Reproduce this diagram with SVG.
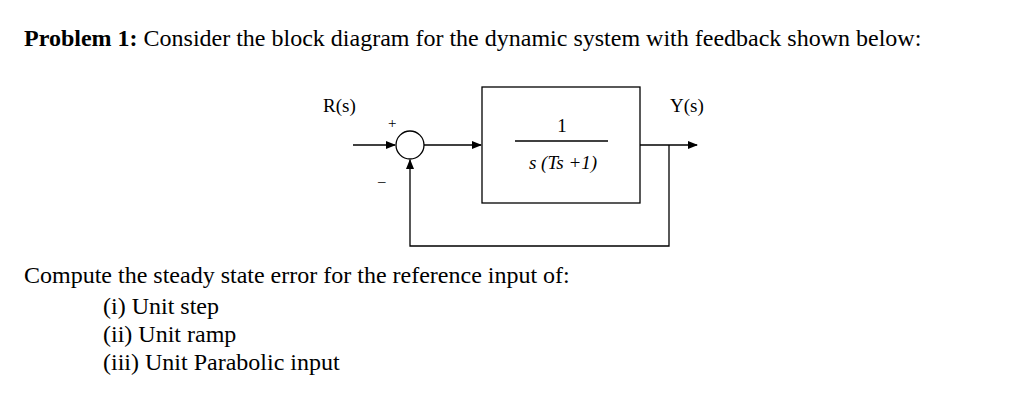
<svg xmlns="http://www.w3.org/2000/svg" width="1024" height="405" viewBox="0 0 1024 405">
<style>
text{font-family:"Liberation Serif",serif;fill:#000}
.t{font-size:24px}
.l{fill:none;stroke:#000;stroke-width:1.3}
.d{font-size:19px}
</style>
<defs><marker id="a" markerWidth="10" markerHeight="8" refX="9" refY="4" orient="auto" markerUnits="userSpaceOnUse"><path d="M0,0 L10,4 L0,8z" fill="#000"/></marker></defs>
<rect width="1024" height="405" fill="#fff"/>
<text class="t" x="24" y="46"><tspan font-weight="bold">Problem 1:</tspan>  Consider the block diagram for the dynamic system with feedback shown below:</text>
<g id="sum"><circle class="l" cx="410" cy="145" r="14"/></g>
<g id="plant"><rect class="l" x="482" y="87" width="158" height="116"/>
<text class="d" x="562" y="132" text-anchor="middle">1</text>
<line class="l" x1="515" y1="141" x2="608" y2="141"/>
<text class="d" x="563" y="169" text-anchor="middle" font-style="italic">s (Ts +1)</text></g>
<g id="connectors">
<line class="l" x1="353" y1="145" x2="395" y2="145" marker-end="url(#a)"/>
<line class="l" x1="424" y1="145" x2="481" y2="145" marker-end="url(#a)"/>
<line class="l" x1="640" y1="145" x2="697" y2="145" marker-end="url(#a)"/>
<polyline class="l" points="669,145 669,246 410,246 410,160" marker-end="url(#a)"/>
</g>
<text class="d" x="323" y="112">R(s)</text>
<text class="d" x="670" y="112">Y(s)</text>
<text x="388" y="128" font-size="15">+</text>
<text x="378" y="186" font-size="15">–</text>
<text class="t" x="24" y="283">Compute the steady state error for the reference input of:</text>
<text class="t" x="103" y="314">(i) Unit step</text>
<text class="t" x="103" y="342">(ii) Unit ramp</text>
<text class="t" x="103" y="370">(iii) Unit Parabolic input</text>
</svg>
